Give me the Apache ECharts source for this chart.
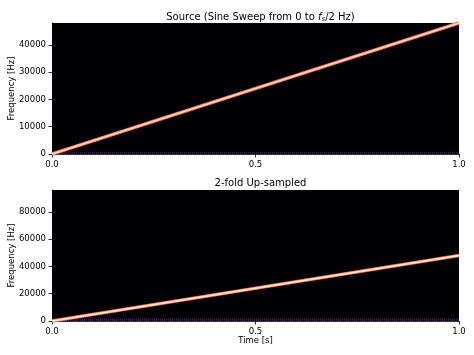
<!DOCTYPE html>
<html>
<head>
<meta charset="utf-8">
<script src="https://cdn.jsdelivr.net/npm/echarts@6/dist/echarts.min.js"></script>
<style>
  html, body { margin: 0; padding: 0; background: #fff; }
  #chart { width: 474px; height: 355px; }
</style>
</head>
<body>
<div id="chart"></div>
<script>
// time axis ticks (both panels)
var timeTicks = [0, 0.5, 1.0]
// frequency ticks
var srcFreqTicks = [0, 10000, 20000, 30000, 40000]
var upFreqTicks = [0, 20000, 40000, 60000, 80000]
var srcFreqMax = 48000   // fs/2 of source
var upFreqMax = 96000    // fs/2 after 2-fold up-sampling

// ridge of the sweep: [time, frequency]
var srcSweep = [[0, 0], [1.0, 48000]]
var upSweep = [[0, 0], [1.0, 48000]]
// faint low-frequency band at the bottom of each spectrogram
var srcBand = [[0, 400], [1.0, 400]]
var upBand = [[0, 1000], [1.0, 1000]]

var FONT = 'DejaVu Sans'

function xAxisOf(idx, withName) {
  return {
    type: 'value', gridIndex: idx, min: 0, max: 1, interval: 0.5,
    name: withName ? 'Time [s]' : '', nameLocation: 'middle', nameGap: 15, nameMoveOverlap: false,
    nameTextStyle: { fontFamily: FONT, fontSize: 8.5, color: '#000' },
    axisLine: { show: true, lineStyle: { color: '#000', width: 0.8 } },
    axisTick: { show: true, inside: false, length: 3.5, lineStyle: { color: '#000', width: 0.8 }, customValues: timeTicks },
    axisLabel: { fontFamily: FONT, fontSize: 8.5, color: '#000', margin: 6, customValues: timeTicks,
      formatter: function (v) { return v.toFixed(1) } },
    splitLine: { show: false }
  }
}

function yAxisOf(idx, max, ticks) {
  return {
    type: 'value', gridIndex: idx, min: 0, max: max,
    name: 'Frequency [Hz]', nameLocation: 'middle', nameGap: 36, nameMoveOverlap: false,
    nameTextStyle: { fontFamily: FONT, fontSize: 8.5, color: '#000' },
    axisLine: { show: true, lineStyle: { color: '#000', width: 0.8 } },
    axisTick: { show: true, length: 3.5, lineStyle: { color: '#000', width: 0.8 }, customValues: ticks },
    axisLabel: { fontFamily: FONT, fontSize: 8.5, color: '#000', margin: 6, customValues: ticks,
      formatter: function (v) { return String(v) } },
    splitLine: { show: false }
  }
}

// glowing ridge: three stacked strokes (magma-like colours)
function ridge(data, idx) {
  var layers = [
    { w: 3.6, c: '#d8466b' },
    { w: 2.6, c: '#fb9a6a' },
    { w: 1.3, c: '#fdf0c2' }
  ]
  return layers.map(function (l) {
    return {
      type: 'line', xAxisIndex: idx, yAxisIndex: idx, data: data,
      symbol: 'none', silent: true, animation: false,
      lineStyle: { width: l.w, color: l.c }
    }
  })
}

function band(data, idx, w) {
  return {
    type: 'line', xAxisIndex: idx, yAxisIndex: idx, data: data,
    symbol: 'none', silent: true, animation: false,
    lineStyle: { width: w, color: '#4c1268', type: [1, 1] }
  }
}

var chart = echarts.init(document.getElementById('chart'), null, { renderer: 'canvas' })

var option = {
  backgroundColor: '#fff',
  animation: false,
  title: [
    {
      left: 255.5, top: 6, textAlign: 'center',
      text: '{a|Source (Sine Sweep from 0 to }{i|f}{s|s}{a|/2 Hz)}',
      textStyle: {
        fontWeight: 'normal',
        rich: {
          a: { fontFamily: FONT, fontSize: 10, fontWeight: 'normal', color: '#000' },
          i: { fontFamily: FONT, fontSize: 10, fontWeight: 'normal', fontStyle: 'italic', color: '#000' },
          s: { fontFamily: FONT, fontSize: 7, fontWeight: 'normal', fontStyle: 'italic', color: '#000', padding: [5, 0, 0, 0] }
        }
      }
    },
    {
      left: 255.5, top: 173, textAlign: 'center',
      text: '2-fold Up-sampled',
      textStyle: { fontFamily: FONT, fontSize: 10, fontWeight: 'normal', color: '#000' }
    }
  ],
  grid: [
    { left: 52, right: 15, top: 23, height: 131, show: true, backgroundColor: '#000004', borderWidth: 0, outerBoundsMode: 'none' },
    { left: 52, right: 15, top: 190, height: 131, show: true, backgroundColor: '#000004', borderWidth: 0, outerBoundsMode: 'none' }
  ],
  xAxis: [xAxisOf(0, false), xAxisOf(1, true)],
  yAxis: [yAxisOf(0, srcFreqMax, srcFreqTicks), yAxisOf(1, upFreqMax, upFreqTicks)],
  series: [band(srcBand, 0, 1.5), band(upBand, 1, 2.5)]
    .concat(ridge(srcSweep, 0))
    .concat(ridge(upSweep, 1))
}

chart.setOption(option)
</script>
</body>
</html>
